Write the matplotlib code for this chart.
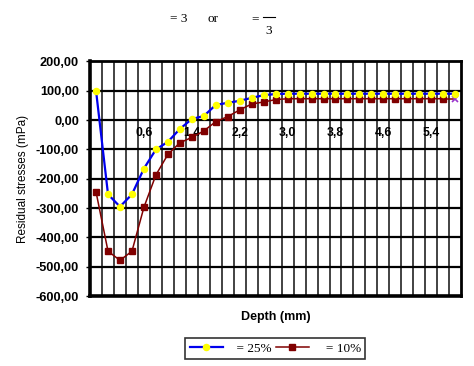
import matplotlib.pyplot as plt
from matplotlib.lines import Line2D

# profundidade (mm) - uma categoria a cada 0,2
depth = [-0.2, 0.0, 0.2, 0.4, 0.6, 0.8, 1.0, 1.2, 1.4, 1.6, 1.8, 2.0, 2.2, 2.4, 2.6, 2.8,
         3.0, 3.2, 3.4, 3.6, 3.8, 4.0, 4.2, 4.4, 4.6, 4.8, 5.0, 5.2, 5.4, 5.6, 5.8]
s25 = [100, -253, -295, -253, -165, -100, -74, -30, 4, 14, 52, 59, 66, 76, 85, 89,
       90, 90, 90, 90, 90, 90, 90, 90, 90, 90, 90, 90, 90, 90, 90]
s10 = [-245, -447, -478, -447, -297, -187, -117, -77, -59, -37, -5, 12, 35, 55, 62, 70,
       73, 73, 73, 73, 73, 73, 73, 73, 73, 73, 73, 73, 73, 73, 73]
yticks = [200, 100, 0, -100, -200, -300, -400, -500, -600]

plt.rcParams['font.family'] = ['Liberation Sans', 'DejaVu Sans']

fig = plt.figure(figsize=(4.74, 3.66), dpi=100)
ax = fig.add_axes([0.19, 0.191, 0.783, 0.641])

x = list(range(len(depth)))
ax.plot(x, s25, color='#0000ee', lw=1.6, marker='o', ms=4.4,
        mfc='#ffff00', mec='#ffff00', zorder=4)
ax.plot(x[:-1], s10[:-1], color='#800000', lw=1.1, marker='s', ms=4.4,
        mfc='#800000', mec='#800000', zorder=3)
ax.plot(x[-2:], s10[-2:], color='#800000', lw=1.1, zorder=3)
ax.plot(x[-1], s10[-1], marker='x', ms=4, color='#9933cc', mew=1.2, zorder=3)

ax.set_xlim(-0.5, len(depth) - 0.5)
ax.set_ylim(-600, 200)
ax.set_yticks(yticks)
ax.set_yticklabels([f'{v:.2f}'.replace('.', ',') for v in yticks],
                   fontsize=9.2, fontweight='bold')
ax.tick_params(axis='y', length=3, width=1, pad=5)

# linhas de grade
for k in range(1, len(depth)):
    ax.axvline(k - 0.5, color='#222222', lw=1.2, zorder=1)
for v in yticks[1:-1]:
    ax.axhline(v, color='black', lw=1.6, zorder=1)

ax.set_xticks([])
for i in range(4, len(depth), 4):
    ax.annotate(f'{depth[i]:.1f}'.replace('.', ','), (i, 0), xytext=(0, -5),
                textcoords='offset points', ha='center', va='top',
                fontsize=8.8, fontweight='bold', zorder=2)

for sp in ax.spines.values():
    sp.set_linewidth(2)
ax.spines['left'].set_linewidth(2.6)
ax.spines['bottom'].set_linewidth(2.6)

ax.set_ylabel('Residual stresses (mPa)', fontsize=8.5, labelpad=5)
ax.set_xlabel('Depth (mm)', fontsize=9, fontweight='bold', labelpad=11)

# titulo (simbolos gregos perdidos no original)
fig.text(0.358, 0.948, '= 3', family='Liberation Serif', fontsize=9.5, ha='left', va='center')
fig.text(0.437, 0.948, 'or', family='Liberation Serif', fontsize=9.5, ha='left', va='center')
fig.text(0.531, 0.948, '=', family='Liberation Serif', fontsize=9.5, ha='left', va='center')
fig.add_artist(Line2D([0.555, 0.580], [0.953, 0.953], color='black', lw=0.8))
fig.text(0.567, 0.916, '3', family='Liberation Serif', fontsize=9.5, ha='center', va='center')

h1 = Line2D([], [], color='#0000ee', lw=1.6, marker='o', ms=4.4, mfc='#ffff00', mec='#ffff00')
h2 = Line2D([], [], color='#800000', lw=1.1, marker='s', ms=4.4, mfc='#800000', mec='#800000')
leg = fig.legend([h1, h2], ['    = 25%', '     = 10%'], ncol=2, loc='center',
                 bbox_to_anchor=(0.581, 0.048), frameon=True, fancybox=False,
                 prop={'family': 'Liberation Serif', 'size': 9.5},
                 handlelength=2.5, handletextpad=0.0, columnspacing=0.3,
                 borderpad=0.35, edgecolor='black')
leg.get_frame().set_linewidth(1.2)

plt.savefig('out.png', dpi=100)
